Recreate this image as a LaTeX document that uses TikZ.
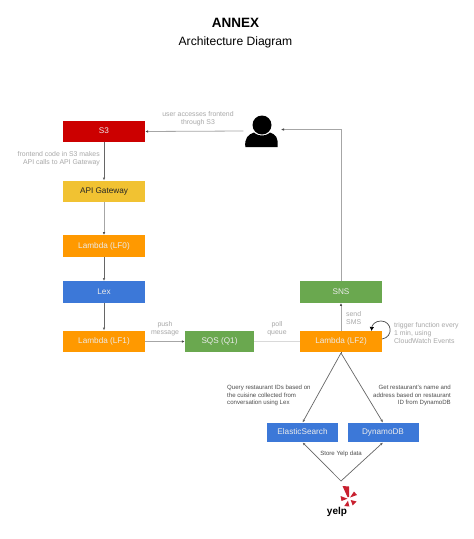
\documentclass[tikz,border=0pt]{standalone}
\usepackage{fontspec}
\setmainfont{Liberation Sans}
\usetikzlibrary{arrows.meta}
\definecolor{cred}{HTML}{CC0000}
\definecolor{cyel}{HTML}{F1C232}
\definecolor{cora}{HTML}{FF9900}
\definecolor{cblu}{HTML}{3C78D8}
\definecolor{cgrn}{HTML}{6AA84F}
\definecolor{ctxt}{HTML}{A8A8A8}
\definecolor{cyelp}{HTML}{C8202F}
\tikzset{
  box/.style={minimum width=#1,minimum height=21.5pt,inner sep=0pt,text height=6pt,text depth=1.8pt,font=\fontsize{8.2}{10}\selectfont,text=white!92!black},
  box/.default=82pt,
  note/.style={font=\fontsize{6.9}{8.3}\selectfont,text=ctxt,align=center,inner sep=0pt},
  dnote/.style={font=\fontsize{6.1}{7.3}\selectfont,text=black!70,inner sep=0pt},
  conn/.style={draw=black!60,line width=0.7pt,-{Latex[length=3pt,width=2.6pt]}},
  pale/.style={draw=black!35,line width=0.8pt,-{Latex[length=3pt,width=2.6pt,black!70]}}
}
\begin{document}
\begin{tikzpicture}[x=1pt,y=-1pt]
\useasboundingbox (0,0) rectangle (474,539);
\fill[white] (0,0) rectangle (474,539);
\node[font=\bfseries\fontsize{13.5}{15}\selectfont,inner sep=0pt] (title) at (235.5,23) {ANNEX};
\node[font=\fontsize{12.1}{14}\selectfont,inner sep=0pt] (sub) at (235.5,42) {Architecture Diagram};

\node[box,fill=cred] (s3) at (104,131.5) {S3};
\node[box,fill=cyel,text=black!85] (api) at (104,191.5) {API Gateway};
\node[box,fill=cora] (lf0) at (104,246) {Lambda (LF0)};
\node[box,fill=cblu] (lex) at (104,292) {Lex};
\node[box,fill=cora] (lf1) at (104,341.5) {Lambda (LF1)};
\node[box=69pt,fill=cgrn] (sqs) at (219.5,341.5) {SQS (Q1)};
\node[box,fill=cora] (lf2) at (341,341.5) {Lambda (LF2)};
\node[box,fill=cgrn] (sns) at (341,292) {SNS};
\node[box=71pt,minimum height=19.5pt,fill=cblu] (es) at (302.5,432.5) {ElasticSearch};
\node[box=71pt,minimum height=19.5pt,fill=cblu] (ddb) at (383,432.5) {DynamoDB};

% person
\node[minimum width=37pt,minimum height=32pt,inner sep=0pt] (user) at (262,131) {};
\coordinate (userin) at (281,129.5);
\fill (262,125) circle (9.5);
\fill (245.3,147) .. controls (244.5,138) and (248,134.5) .. (254,132.5) -- (256,134) .. controls (259,136) and (265,136) .. (268,134) -- (270,132.5) .. controls (276,134.5) and (278.5,138) .. (277.5,147) -- cycle;

% yelp
\coordinate (fork) at (341,481);
\coordinate (apex) at (341,353);
\begin{scope}[cyelp]
\fill (342.5,486) -- (349,486.5) -- (349,497) -- (347.5,497) -- cycle;
\fill (340.5,496) -- (347.5,498.7) -- (341.5,501) -- cycle;
\fill (350,497.5) -- (354,491.5) -- (357,495) -- cycle;
\fill (350.7,500) -- (356.5,501.5) -- (352.7,505.5) -- cycle;
\fill (344.3,506) -- (348,500.7) -- (349.3,506.5) -- cycle;
\end{scope}
\node[font=\bfseries\fontsize{10}{12}\selectfont,inner sep=0pt] (yelp) at (337,511.5) {yelp};

% connectors
\draw[pale] (user.west) -- (s3.east);
\draw[conn] (s3) -- (api);
\draw[pale] (api) -- (lf0);
\draw[conn] (lf0) -- (lex);
\draw[conn] (lex) -- (lf1);
\draw[pale] (lf1) -- (sqs);
\draw[draw=black!15,line width=0.8pt] (sqs) -- (lf2);
\draw[pale] (lf2) -- (sns);
\draw[pale,line width=1pt] (sns) -- (sns |- userin) -- (userin);
\draw[black!65,line width=0.8pt] (apex) -- (lf2.south);
\draw[conn] (apex) -- (es.north);
\draw[conn] (apex) -- (ddb.north);
\draw[conn] (fork) -- (es.south);
\draw[conn] (fork) -- (ddb.south);
\draw[black!70,line width=0.7pt,-{Latex[length=4pt,width=4.5pt,black]}] (382,339) .. controls (394,337) and (392,321) .. (381,321) .. controls (375,321) and (372,325) .. (371.5,331);

% labels
\node[note] (n1) at (198,119) {user accesses frontend\\through S3};
\node[note,align=right,anchor=east] (n2) at (100,159) {frontend code in S3 makes\\API calls to API Gateway};
\node[note] (n3) at (165,329) {push\\message};
\node[note] (n4) at (277,329) {poll\\queue};
\node[note,align=left,anchor=west] (n5) at (346,318) {send\\SMS};
\node[note,align=left,anchor=west] (n6) at (394,333) {trigger function every\\1 min, using\\CloudWatch Events};
\node[dnote,align=left,anchor=west] (n7) at (227,395.5) {Query restaurant IDs based on\\the cuisine collected from\\conversation using Lex};
\node[dnote,align=right,anchor=east] (n8) at (451,395.5) {Get restaurant's name and\\address based on restaurant\\ID from DynamoDB};
\node[dnote] (n9) at (341,454) {Store Yelp data};
\end{tikzpicture}
\end{document}
